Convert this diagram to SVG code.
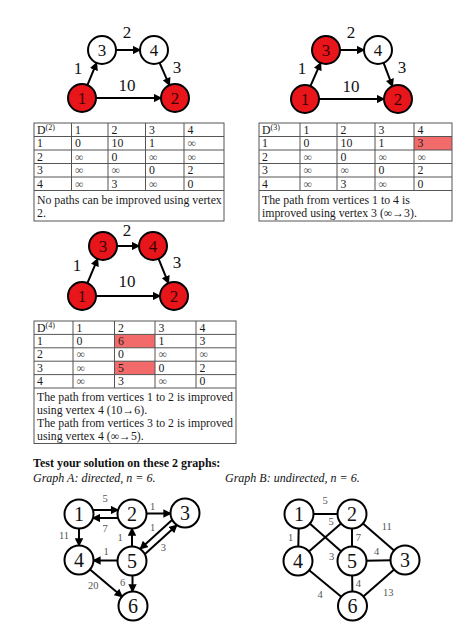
<svg xmlns="http://www.w3.org/2000/svg" width="474" height="642" viewBox="0 0 474 642">
<defs>
<marker id="ah" viewBox="0 0 10 10" refX="8.5" refY="5" markerWidth="4.5" markerHeight="4.2" orient="auto" markerUnits="strokeWidth"><path d="M0,0 L10,5 L0,10 z" fill="#000"/></marker>
</defs>
<style>
.n{fill:#fff;stroke:#000;stroke-width:2}
.r{fill:#e8161b;stroke:#000;stroke-width:2}
.nt{font-family:"Liberation Serif",serif;font-size:17px;text-anchor:middle;fill:#111}
.rt{font-family:"Liberation Serif",serif;font-size:17px;text-anchor:middle;fill:#3a0000}
.el{font-family:"Liberation Serif",serif;font-size:17px;text-anchor:middle;fill:#111}
.e{stroke:#000;stroke-width:2;fill:none;marker-end:url(#ah)}
.eu{stroke:#000;stroke-width:2;fill:none}
.bn{fill:#fff;stroke:#000;stroke-width:2}
.bt{font-family:"Liberation Serif",serif;font-size:20px;text-anchor:middle;fill:#111}
.sl{font-family:"Liberation Serif",serif;font-size:10.5px;text-anchor:middle;fill:#555}
.tb{fill:none;stroke:#555;stroke-width:1}
.tt{font-family:"Liberation Serif",serif;font-size:11.8px;fill:#1a1a1a}
.inf{fill:#555}
.hl{fill:#f26a6a}
.h1{font-family:"Liberation Serif",serif;font-size:12px;font-weight:bold;fill:#111}
.h2{font-family:"Liberation Serif",serif;font-size:12px;font-style:italic;fill:#111}
</style>

<!-- Graph 1 (top-left) -->
<g id="g1-connectors">
<line class="e" x1="87.4" y1="85.1" x2="96.6" y2="62.9"/>
<line class="e" x1="116" y1="50" x2="140" y2="50"/>
<line class="e" x1="159.6" y1="62.8" x2="169.4" y2="85.2"/>
<line class="e" x1="96" y1="98" x2="161" y2="98"/>
<text class="el" x="78" y="74">1</text>
<text class="el" x="127" y="38">2</text>
<text class="el" x="177" y="73">3</text>
<text class="el" x="127" y="91">10</text>
</g>
<g id="g1-n1"><circle class="r" cx="82" cy="98" r="14"/><text class="rt" x="82" y="104">1</text></g>
<g id="g1-n2"><circle class="r" cx="175" cy="98" r="14"/><text class="rt" x="175" y="104">2</text></g>
<g id="g1-n3"><circle class="n" cx="102" cy="50" r="14"/><text class="nt" x="102" y="56">3</text></g>
<g id="g1-n4"><circle class="n" cx="154" cy="50" r="14"/><text class="nt" x="154" y="56">4</text></g>

<!-- Graph 2 (top-right) -->
<g id="g2-connectors">
<line class="e" x1="310.4" y1="86.1" x2="320.6" y2="62.9"/>
<line class="e" x1="340" y1="50" x2="364" y2="50"/>
<line class="e" x1="383.6" y1="62.8" x2="392.4" y2="86.2"/>
<line class="e" x1="319" y1="99" x2="384" y2="99"/>
<text class="el" x="302" y="74">1</text>
<text class="el" x="351" y="38">2</text>
<text class="el" x="402" y="73">3</text>
<text class="el" x="351" y="92">10</text>
</g>
<g id="g2-n1"><circle class="r" cx="305" cy="99" r="14"/><text class="rt" x="305" y="105">1</text></g>
<g id="g2-n2"><circle class="r" cx="398" cy="99" r="14"/><text class="rt" x="398" y="105">2</text></g>
<g id="g2-n3"><circle class="r" cx="326" cy="50" r="14"/><text class="rt" x="326" y="56">3</text></g>
<g id="g2-n4"><circle class="n" cx="378" cy="50" r="14"/><text class="nt" x="378" y="56">4</text></g>

<!-- Table D(2) -->
<g id="table-d2">
<rect class="tb" x="34" y="123" width="190" height="98"/>
<path class="tb" d="M34,136.5H224M34,150H224M34,163.5H224M34,177H224M34,190.5H224M71.5,123V190.5M108,123V190.5M145.5,123V190.5M184,123V190.5"/>
<text class="tt" x="37" y="133.5">D<tspan font-size="8" dy="-4">(2)</tspan></text>
<text class="tt" x="75" y="133.5">1</text><text class="tt" x="111.5" y="133.5">2</text><text class="tt" x="149" y="133.5">3</text><text class="tt" x="187.5" y="133.5">4</text>
<text class="tt" x="37" y="147">1</text><text class="tt" x="75" y="147">0</text><text class="tt" x="111.5" y="147">10</text><text class="tt" x="149" y="147">1</text><text class="tt inf" x="187.5" y="147">∞</text>
<text class="tt" x="37" y="160.5">2</text><text class="tt inf" x="75" y="160.5">∞</text><text class="tt" x="111.5" y="160.5">0</text><text class="tt inf" x="149" y="160.5">∞</text><text class="tt inf" x="187.5" y="160.5">∞</text>
<text class="tt" x="37" y="174">3</text><text class="tt inf" x="75" y="174">∞</text><text class="tt inf" x="111.5" y="174">∞</text><text class="tt" x="149" y="174">0</text><text class="tt" x="187.5" y="174">2</text>
<text class="tt" x="37" y="187.5">4</text><text class="tt inf" x="75" y="187.5">∞</text><text class="tt" x="111.5" y="187.5">3</text><text class="tt inf" x="149" y="187.5">∞</text><text class="tt" x="187.5" y="187.5">0</text>
<text class="tt" x="37" y="204">No paths can be improved using vertex</text>
<text class="tt" x="37" y="217">2.</text>
</g>

<!-- Table D(3) -->
<g id="table-d3">
<rect class="hl" x="414" y="136.5" width="38" height="13.5"/>
<rect class="tb" x="259" y="123" width="193" height="98"/>
<path class="tb" d="M259,136.5H452M259,150H452M259,163.5H452M259,177H452M259,190.5H452M300,123V190.5M337,123V190.5M375,123V190.5M414,123V190.5"/>
<text class="tt" x="262" y="133.5">D<tspan font-size="8" dy="-4">(3)</tspan></text>
<text class="tt" x="303.5" y="133.5">1</text><text class="tt" x="340.5" y="133.5">2</text><text class="tt" x="378.5" y="133.5">3</text><text class="tt" x="417.5" y="133.5">4</text>
<text class="tt" x="262" y="147">1</text><text class="tt" x="303.5" y="147">0</text><text class="tt" x="340.5" y="147">10</text><text class="tt" x="378.5" y="147">1</text><text class="tt" x="417.5" y="147">3</text>
<text class="tt" x="262" y="160.5">2</text><text class="tt inf" x="303.5" y="160.5">∞</text><text class="tt" x="340.5" y="160.5">0</text><text class="tt inf" x="378.5" y="160.5">∞</text><text class="tt inf" x="417.5" y="160.5">∞</text>
<text class="tt" x="262" y="174">3</text><text class="tt inf" x="303.5" y="174">∞</text><text class="tt inf" x="340.5" y="174">∞</text><text class="tt" x="378.5" y="174">0</text><text class="tt" x="417.5" y="174">2</text>
<text class="tt" x="262" y="187.5">4</text><text class="tt inf" x="303.5" y="187.5">∞</text><text class="tt" x="340.5" y="187.5">3</text><text class="tt inf" x="378.5" y="187.5">∞</text><text class="tt" x="417.5" y="187.5">0</text>
<text class="tt" x="262" y="204">The path from vertices 1 to 4 is</text>
<text class="tt" x="262" y="217">improved using vertex 3 (∞→3).</text>
</g>

<!-- Graph 3 (middle) -->
<g id="g3-connectors">
<line class="e" x1="87.4" y1="283.1" x2="97.6" y2="258.9"/>
<line class="e" x1="117" y1="246" x2="139" y2="246"/>
<line class="e" x1="158.6" y1="258.8" x2="168.4" y2="283.2"/>
<line class="e" x1="96" y1="296" x2="160" y2="296"/>
<text class="el" x="77" y="271">1</text>
<text class="el" x="127" y="236">2</text>
<text class="el" x="177" y="268">3</text>
<text class="el" x="127" y="287">10</text>
</g>
<g id="g3-n1"><circle class="r" cx="82" cy="296" r="14"/><text class="rt" x="82" y="302">1</text></g>
<g id="g3-n2"><circle class="r" cx="174" cy="296" r="14"/><text class="rt" x="174" y="302">2</text></g>
<g id="g3-n3"><circle class="r" cx="103" cy="246" r="14"/><text class="rt" x="103" y="252">3</text></g>
<g id="g3-n4"><circle class="r" cx="153" cy="246" r="14"/><text class="rt" x="153" y="252">4</text></g>

<!-- Table D(4) -->
<g id="table-d4">
<rect class="hl" x="114.5" y="334.4" width="40.5" height="13.4"/>
<rect class="hl" x="114.5" y="361.2" width="40.5" height="13.4"/>
<rect class="tb" x="34" y="321" width="202" height="122.5"/>
<path class="tb" d="M34,334.4H236M34,347.8H236M34,361.2H236M34,374.6H236M34,388H236M73,321V388M114.5,321V388M155,321V388M196,321V388"/>
<text class="tt" x="37" y="331.5">D<tspan font-size="8" dy="-4">(4)</tspan></text>
<text class="tt" x="76.5" y="331.5">1</text><text class="tt" x="118" y="331.5">2</text><text class="tt" x="158.5" y="331.5">3</text><text class="tt" x="199.5" y="331.5">4</text>
<text class="tt" x="37" y="345">1</text><text class="tt" x="76.5" y="345">0</text><text class="tt" x="118" y="345">6</text><text class="tt" x="158.5" y="345">1</text><text class="tt" x="199.5" y="345">3</text>
<text class="tt" x="37" y="358.4">2</text><text class="tt inf" x="76.5" y="358.4">∞</text><text class="tt" x="118" y="358.4">0</text><text class="tt inf" x="158.5" y="358.4">∞</text><text class="tt inf" x="199.5" y="358.4">∞</text>
<text class="tt" x="37" y="371.8">3</text><text class="tt inf" x="76.5" y="371.8">∞</text><text class="tt" x="118" y="371.8">5</text><text class="tt" x="158.5" y="371.8">0</text><text class="tt" x="199.5" y="371.8">2</text>
<text class="tt" x="37" y="385.2">4</text><text class="tt inf" x="76.5" y="385.2">∞</text><text class="tt" x="118" y="385.2">3</text><text class="tt inf" x="158.5" y="385.2">∞</text><text class="tt" x="199.5" y="385.2">0</text>
<text class="tt" x="37" y="401">The path from vertices 1 to 2 is improved</text>
<text class="tt" x="37" y="414">using vertex 4 (10→6).</text>
<text class="tt" x="37" y="427">The path from vertices 3 to 2 is improved</text>
<text class="tt" x="37" y="440">using vertex 4 (∞→5).</text>
</g>

<!-- Headings -->
<g id="headings">
<text class="h1" x="33" y="467">Test your solution on these 2 graphs:</text>
<text class="h2" x="33" y="481.5">Graph A: directed, n = 6.</text>
<text class="h2" x="225" y="481.5">Graph B: undirected, n = 6.</text>
</g>

<!-- Graph A -->
<g id="gA-connectors">
<line class="e" x1="93" y1="510" x2="118" y2="510"/>
<line class="e" x1="118" y1="518" x2="93" y2="518"/>
<line class="e" x1="146.5" y1="513.5" x2="170.5" y2="513.5"/>
<line class="e" x1="79" y1="528.5" x2="79" y2="545.5"/>
<line class="e" x1="117.5" y1="560.5" x2="93.5" y2="560.5"/>
<line class="e" x1="132" y1="546.5" x2="132" y2="528.5"/>
<line class="e" x1="132.5" y1="575.5" x2="132.5" y2="591.5"/>
<line class="e" x1="90" y1="569.4" x2="122" y2="596.6"/>
<line class="e" x1="172" y1="520" x2="140.4" y2="548.7"/>
<line class="e" x1="145" y1="553.9" x2="176.7" y2="525.3"/>
<text class="sl" x="105" y="501.5">5</text>
<text class="sl" x="105" y="531.5">7</text>
<text class="sl" x="152.7" y="509.5">1</text>
<text class="sl" x="64" y="539">11</text>
<text class="sl" x="106" y="555">1</text>
<text class="sl" x="120" y="540.5">1</text>
<text class="sl" x="152.7" y="530.5">1</text>
<text class="sl" x="163.3" y="551">3</text>
<text class="sl" x="93.3" y="589">20</text>
<text class="sl" x="122.7" y="585.5">6</text>
</g>
<g id="gA-n1"><circle class="bn" cx="79" cy="514" r="14.5"/><text class="bt" x="79" y="521">1</text></g>
<g id="gA-n2"><circle class="bn" cx="132" cy="514" r="14.5"/><text class="bt" x="132" y="521">2</text></g>
<g id="gA-n3"><circle class="bn" cx="185" cy="513" r="14.5"/><text class="bt" x="185" y="520">3</text></g>
<g id="gA-n4"><circle class="bn" cx="79" cy="560" r="14.5"/><text class="bt" x="79" y="567">4</text></g>
<g id="gA-n5"><circle class="bn" cx="132" cy="561" r="14.5"/><text class="bt" x="132" y="568">5</text></g>
<g id="gA-n6"><circle class="bn" cx="133" cy="606" r="14.5"/><text class="bt" x="133" y="613">6</text></g>

<!-- Graph B -->
<g id="gB-connectors">
<line class="eu" x1="299" y1="514" x2="352" y2="514"/>
<line class="eu" x1="299" y1="514" x2="298" y2="561"/>
<line class="eu" x1="299" y1="514" x2="352" y2="561"/>
<line class="eu" x1="352" y1="514" x2="298" y2="561"/>
<line class="eu" x1="352" y1="514" x2="352" y2="561"/>
<line class="eu" x1="352" y1="514" x2="405" y2="560"/>
<line class="eu" x1="352" y1="561" x2="405" y2="560"/>
<line class="eu" x1="352" y1="561" x2="352.5" y2="606"/>
<line class="eu" x1="298" y1="561" x2="352.5" y2="606"/>
<line class="eu" x1="405" y1="560" x2="352.5" y2="606"/>
<text class="sl" x="325" y="503.5">5</text>
<text class="sl" x="290.7" y="540.5">1</text>
<text class="sl" x="331.7" y="559.5">3</text>
<text class="sl" x="331" y="525">5</text>
<text class="sl" x="358.3" y="540.5">7</text>
<text class="sl" x="386.7" y="529.5">11</text>
<text class="sl" x="376.7" y="555">4</text>
<text class="sl" x="358.3" y="587">4</text>
<text class="sl" x="320" y="598">4</text>
<text class="sl" x="388.3" y="596">13</text>
</g>
<g id="gB-n1"><circle class="bn" cx="299" cy="514" r="14.5"/><text class="bt" x="299" y="521">1</text></g>
<g id="gB-n2"><circle class="bn" cx="352" cy="514" r="14.5"/><text class="bt" x="352" y="521">2</text></g>
<g id="gB-n3"><circle class="bn" cx="405" cy="560" r="14.5"/><text class="bt" x="405" y="567">3</text></g>
<g id="gB-n4"><circle class="bn" cx="298" cy="561" r="14.5"/><text class="bt" x="298" y="568">4</text></g>
<g id="gB-n5"><circle class="bn" cx="352" cy="561" r="14.5"/><text class="bt" x="352" y="568">5</text></g>
<g id="gB-n6"><circle class="bn" cx="352.5" cy="606" r="14.5"/><text class="bt" x="352.5" y="613">6</text></g>
</svg>
